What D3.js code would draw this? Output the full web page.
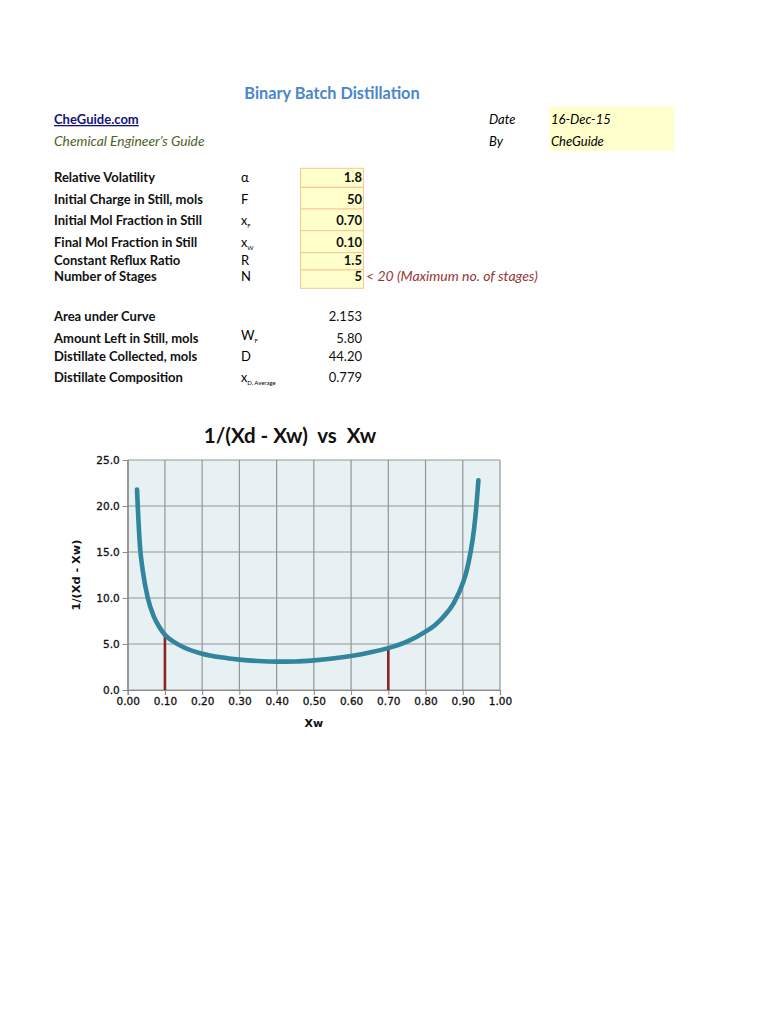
<!DOCTYPE html>
<html>
<head>
<meta charset="utf-8">
<script src="https://cdn.jsdelivr.net/npm/d3@7"></script>
<style>
body { margin: 0; background: #fff; }
.sheet text { font-family: Lato, "Open Sans", sans-serif; }
.chart text { font-family: "DejaVu Sans", sans-serif; }
</style>
</head>
<body>
<div id="vis"></div>
<script>
// sheet inputs
const inputLabels = ["Relative Volatility", "Initial Charge in Still, mols", "Initial Mol Fraction in Still",
    "Final Mol Fraction in Still", "Constant Reflux Ratio", "Number of Stages"];
const inputSymbols = [["α"], ["F"], ["x", "F"], ["x", "W"], ["R"], ["N"]];
const inputValues = ["1.8", "50", "0.70", "0.10", "1.5", "5"];

// sheet results
const resultLabels = ["Area under Curve", "Amount Left in Still, mols", "Distillate Collected, mols", "Distillate Composition"];
const resultSymbols = [[""], ["W", "F"], ["D"], ["x", "D, Average"]];
const resultValues = ["2.153", "5.80", "44.20", "0.779"];

// curve 1/(Xd - Xw) against Xw
const xwValues = [0.025, 0.027, 0.033, 0.040, 0.054, 0.070, 0.085, 0.100, 0.125, 0.150, 0.200, 0.250,
    0.300, 0.350, 0.400, 0.450, 0.500, 0.550, 0.600, 0.650, 0.700, 0.750, 0.800, 0.825, 0.850, 0.875,
    0.900, 0.910, 0.921, 0.930, 0.937, 0.942];
const invDiffValues = [21.8, 20.0, 15.6, 13.1, 10.0, 8.0, 6.85, 6.0, 5.2, 4.65, 3.95, 3.55,
    3.3, 3.15, 3.08, 3.1, 3.22, 3.42, 3.7, 4.08, 4.55, 5.25, 6.35, 7.05, 8.05, 9.4,
    11.6, 12.9, 15.0, 17.4, 20.2, 22.8];

// integration limits (Xw final and Xf)
const limitXw = [0.10, 0.70];
const limitHeights = [5.9, 4.4];

const xTicks = [0, 0.1, 0.2, 0.3, 0.4, 0.5, 0.6, 0.7, 0.8, 0.9, 1.0];
const yTicks = [0, 5, 10, 15, 20, 25];

const W = 768, H = 1024;
const plot = {left: 127.7, right: 500, top: 460, bottom: 690};

const svg = d3.select("#vis")
    .append("svg")
    .attr("width", W)
    .attr("height", H);

svg.append("rect").attr("width", W).attr("height", H).attr("fill", "#fff");

const sheet = svg.append("g").attr("class", "sheet");

sheet.append("text")
    .attr("x", 332).attr("y", 99)
    .attr("text-anchor", "middle")
    .attr("font-size", 16.3)
    .attr("font-weight", "bold")
    .attr("fill", "#4a86c8")
    .text("Binary Batch Distillation");

sheet.append("text")
    .attr("x", 54).attr("y", 124)
    .attr("font-size", 13)
    .attr("font-weight", "bold")
    .attr("fill", "#14147a")
    .attr("text-decoration", "underline")
    .text("CheGuide.com");

sheet.append("text")
    .attr("x", 54).attr("y", 145.5)
    .attr("font-size", 13.8)
    .attr("font-style", "italic")
    .attr("fill", "#4f6228")
    .text("Chemical Engineer’s Guide");

// date / author block
sheet.append("rect")
    .attr("x", 549.5).attr("y", 106.7)
    .attr("width", 124.5).attr("height", 44)
    .attr("fill", "#ffffcc");

const metaRows = [["Date", "16-Dec-15", 124], ["By", "CheGuide", 145.5]];
metaRows.forEach(([k, v, y]) => {
    sheet.append("text").attr("x", 489).attr("y", y)
        .attr("font-size", 13).attr("font-style", "italic").text(k);
    sheet.append("text").attr("x", 551).attr("y", y)
        .attr("font-size", 13).attr("font-style", "italic").text(v);
});

function symbolText(g, parts, x, y) {
    const t = g.append("text").attr("x", x).attr("y", y).attr("font-size", 13);
    if (parts[0] === "x") {
        t.append("tspan").attr("font-size", 12.5).text("x");
    } else {
        t.append("tspan").text(parts[0]);
    }
    if (parts.length > 1) {
        t.append("tspan").attr("font-size", 6).attr("dy", 3).text(parts[1]);
    }
}

// input cells
const inputBaselines = [182, 203.5, 225, 247, 264.5, 280.5];
const cellEdges = [168.3, 187.3, 209, 230.7, 252.7, 270, 288.3];

sheet.append("g").selectAll("rect")
    .data(d3.range(inputValues.length))
    .join("rect")
    .attr("x", 300.5)
    .attr("y", i => cellEdges[i])
    .attr("width", 63)
    .attr("height", i => cellEdges[i + 1] - cellEdges[i])
    .attr("fill", "#ffffcc")
    .attr("stroke", "#f8c594")
    .attr("stroke-width", 1);

inputLabels.forEach((lab, i) => {
    sheet.append("text").attr("x", 54).attr("y", inputBaselines[i])
        .attr("font-size", 13).attr("font-weight", "bold").attr("fill", "#111")
        .text(lab);
    symbolText(sheet, inputSymbols[i], 241, inputBaselines[i]);
    sheet.append("text").attr("x", 362).attr("y", inputBaselines[i])
        .attr("text-anchor", "end")
        .attr("font-size", 13).attr("font-weight", "bold").attr("fill", "#111")
        .text(inputValues[i]);
});

sheet.append("text")
    .attr("x", 366).attr("y", inputBaselines[5])
    .attr("font-size", 14).attr("font-style", "italic")
    .attr("fill", "#953735")
    .text("< 20 (Maximum no. of stages)");

const resultBaselines = [320.5, 343, 360.5, 382];
resultLabels.forEach((lab, i) => {
    sheet.append("text").attr("x", 54).attr("y", resultBaselines[i])
        .attr("font-size", 13).attr("font-weight", "bold").attr("fill", "#111")
        .text(lab);
    if (resultSymbols[i][0]) symbolText(sheet, resultSymbols[i], 241, resultBaselines[i] - (i === 1 ? 3 : 0));
    sheet.append("text").attr("x", 362).attr("y", resultBaselines[i])
        .attr("text-anchor", "end")
        .attr("font-size", 13).attr("fill", "#111")
        .text(resultValues[i]);
});

// chart
const chart = svg.append("g").attr("class", "chart");

chart.append("text")
    .attr("x", 290).attr("y", 443)
    .attr("text-anchor", "middle")
    .attr("font-size", 20.5)
    .attr("font-weight", "bold")
    .attr("fill", "#111")
    .style("font-family", "Lato, sans-serif")
    .attr("xml:space", "preserve")
    .text("1/(Xd - Xw)  vs  Xw");

const x = d3.scaleLinear().domain([0, 1]).range([plot.left, plot.right]);
const y = d3.scaleLinear().domain([0, 25]).range([plot.bottom, plot.top]);

chart.append("rect")
    .attr("x", plot.left).attr("y", plot.top)
    .attr("width", plot.right - plot.left)
    .attr("height", plot.bottom - plot.top)
    .attr("fill", "#e7f0f3");

chart.append("g").selectAll("line")
    .data(xTicks)
    .join("line")
    .attr("x1", d => x(d)).attr("x2", d => x(d))
    .attr("y1", plot.top).attr("y2", plot.bottom)
    .attr("stroke", "#969696").attr("stroke-width", 1.2);

chart.append("g").selectAll("line")
    .data(yTicks)
    .join("line")
    .attr("x1", plot.left).attr("x2", plot.right)
    .attr("y1", d => y(d)).attr("y2", d => y(d))
    .attr("stroke", "#969696").attr("stroke-width", 1.2);

const xAxis = chart.append("g")
    .attr("transform", `translate(0,${plot.bottom})`)
    .call(d3.axisBottom(x).tickValues(xTicks).tickFormat(d3.format(".2f")).tickSize(5).tickPadding(3));
const yAxis = chart.append("g")
    .attr("transform", `translate(${plot.left},0)`)
    .call(d3.axisLeft(y).tickValues(yTicks).tickFormat(d3.format(".1f")).tickSize(5).tickPadding(3));

[xAxis, yAxis].forEach(a => {
    a.select(".domain").attr("stroke", "#8a8a8a").attr("stroke-width", 1.2);
    a.selectAll(".tick line").attr("stroke", "#8a8a8a");
    a.selectAll(".tick text")
        .attr("fill", "#111")
        .attr("stroke", "#111")
        .attr("stroke-width", 0.3)
        .attr("font-size", 10.5)
        .style("font-family", "'DejaVu Sans', sans-serif");
});

chart.append("text")
    .attr("x", x(0.5)).attr("y", 727)
    .attr("text-anchor", "middle")
    .attr("font-size", 11).attr("font-weight", "bold").attr("fill", "#111")
    .text("Xw");

chart.append("text")
    .attr("transform", `translate(80,${y(12.5)}) rotate(-90)`)
    .attr("text-anchor", "middle")
    .attr("font-size", 11.3).attr("font-weight", "bold").attr("fill", "#111")
    .text("1/(Xd - Xw)");

chart.append("g").selectAll("line")
    .data(limitXw)
    .join("line")
    .attr("x1", d => x(d)).attr("x2", d => x(d))
    .attr("y1", y(0))
    .attr("y2", (d, i) => y(limitHeights[i]))
    .attr("stroke", "#8b2525").attr("stroke-width", 2.6);

const curveData = xwValues.map((d, i) => [d, invDiffValues[i]]);
chart.append("path")
    .datum(curveData)
    .attr("fill", "none")
    .attr("stroke", "#31859c")
    .attr("stroke-width", 4.6)
    .attr("stroke-linecap", "round")
    .attr("d", d3.line().x(d => x(d[0])).y(d => y(d[1])).curve(d3.curveMonotoneX));
</script>
</body>
</html>
